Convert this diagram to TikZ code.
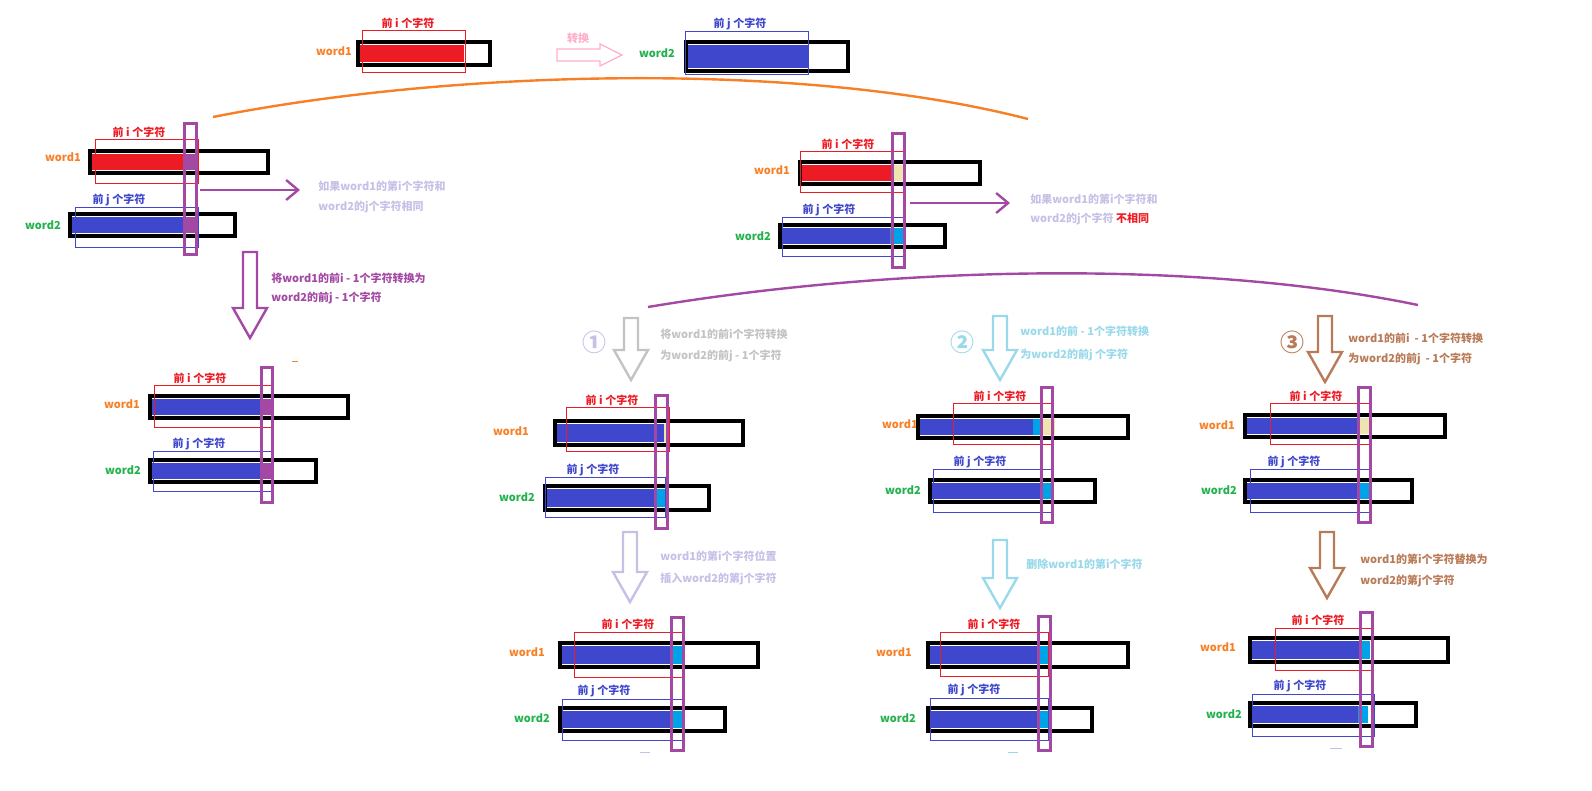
\documentclass[tikz,border=0pt]{standalone}
\usepackage{fontspec}
\usetikzlibrary{arrows.meta}
\setmainfont{Noto Sans CJK SC}
\begin{document}
\definecolor{cOr}{RGB}{247,127,38}
\definecolor{cGr}{RGB}{34,177,76}
\definecolor{cRe}{RGB}{237,28,36}
\definecolor{cBl}{RGB}{63,72,204}
\definecolor{cPu}{RGB}{163,73,164}
\definecolor{cLp}{RGB}{200,191,231}
\definecolor{cCy}{RGB}{153,217,234}
\definecolor{cBr}{RGB}{185,122,87}
\definecolor{cGy}{RGB}{195,195,195}
\definecolor{cPk}{RGB}{255,174,201}
\definecolor{cBe}{RGB}{239,228,176}
\definecolor{cSk}{RGB}{0,162,232}
\newcommand\wbar[7]{\fill[#7] (#2+2,#3+3) rectangle (#6,#5-3);
 \draw[line width=2pt] (#2,#3) rectangle (#4,#5); \coordinate (#1) at (#2,#3);}
\newcommand\wpatch[5]{\fill[#5] (#1,#2+3) rectangle (#3,#4-3);}
\newcommand\wbox[7]{\draw[#1,line width=0.5pt] (#2,#3) rectangle (#4,#5);
 \node[lab,text=#1,anchor=south] at (#6,#3-2) {#7};}
\newcommand\wsel[4]{\draw[cPu,line width=1.5pt] (#1,#3) rectangle (#2,#4);}
\newcommand\harrow[5]{\draw[#5,line width=1.2pt] (#2-7,#3) -- (#2+7,#3) -- (#2+7,#4-30) -- (#2+17,#4-30) -- (#2,#4) -- (#2-17,#4-30) -- (#2-7,#4-30) -- cycle; \coordinate (#1) at (#2,#3);}
\begin{tikzpicture}[x=0.5pt,y=-0.5pt,
 lab/.style={font=\bfseries\fontsize{5.5}{6.5}\selectfont,inner sep=0},
 txt/.style={lab,anchor=west},
 w1/.style={lab,text=cOr},w2/.style={lab,text=cGr}]
\useasboundingbox (0,0) rectangle (1592,791);
% top
\node[w1] (t1) at (334,51) {word1};
\wbar{tb1}{358}{42}{490}{65}{464}{cRe}
\wbox{cRe}{362}{31}{465}{73}{408}{前 i 个字符}
\draw[cPk,line width=0.6pt] (557,49) -- (600,49) -- (600,44) -- (622,55) -- (600,66) -- (600,61) -- (557,61) -- cycle;
\node[lab,text=cPk] at (578,38) {转换};
\node[w2] (t2) at (657,53) {word2};
\wbar{tb2}{686}{42}{848}{71}{808}{cBl}
\wbox{cBl}{685}{32}{808}{75}{740}{前 j 个字符}
\draw[cOr,line width=1.2pt] (213,117) .. controls (450,70) and (800,60) .. (1028,119);
% left
\node[w1] at (63,157) {word1};
\wbar{lb1}{90}{151}{268}{173}{190}{cRe}
\wpatch{183}{151}{195}{173}{cPu}
\wbox{cRe}{95}{140}{198}{184}{139}{前 i 个字符}
\node[w2] at (43,225) {word2};
\wbar{lb2}{70}{214}{235}{236}{185}{cBl}
\wpatch{183}{214}{195}{236}{cPu}
\wbox{cBl}{75}{208}{198}{248}{119}{前 j 个字符}
\wsel{184}{196}{124}{255}
\coordinate (la0) at (200,190); \coordinate (la1) at (300,190);
\draw[cPu,line width=1.2pt,-{Straight Barb[length=6pt,width=10pt]}] (la0) -- (la1);
\node[txt,text=cLp] at (318,186) {如果word1的第i个字符和};
\node[txt,text=cLp] at (318,207) {word2的j个字符相同};
\harrow{lh}{250}{252}{338}{cPu}
\node[txt,text=cPu] at (271,278) {将word1的前i - 1个字符转换为};
\node[txt,text=cPu] at (271,298) {word2的前j - 1个字符};
\node[w1] at (122,404) {word1};
\wbar{lc1}{150}{396}{348}{418}{270}{cBl}
\wpatch{262}{396}{272}{418}{cPu}
\wbox{cRe}{154}{386}{272}{428}{200}{前 i 个字符}
\node[w2] at (123,470) {word2};
\wbar{lc2}{150}{460}{316}{482}{270}{cBl}
\wpatch{262}{460}{272}{482}{cPu}
\wbox{cBl}{153}{452}{272}{492}{199}{前 j 个字符}
\wsel{261}{272}{368}{502}
\draw[cOr,line width=0.5pt] (292,362) -- (298,362);
% middle top
\node[w1] at (772,170) {word1};
\wbar{mb1}{800}{162}{980}{184}{893}{cRe}
\wpatch{891}{162}{906}{184}{cBe}
\wbox{cRe}{800}{152}{904}{193}{848}{前 i 个字符}
\node[w2] at (753,236) {word2};
\wbar{mb2}{780}{225}{945}{247}{893}{cBl}
\wpatch{890}{225}{903}{247}{cSk}
\wbox{cBl}{782}{218}{905}{257}{829}{前 j 个字符}
\wsel{892}{904}{134}{268}
\coordinate (ma0) at (910,203); \coordinate (ma1) at (1010,203);
\draw[cPu,line width=1.2pt,-{Straight Barb[length=6pt,width=10pt]}] (ma0) -- (ma1);
\node[txt,text=cLp] at (1030,199) {如果word1的第i个字符和};
\node[txt,text=cLp] at (1030,219) {word2的j个字符 \textcolor{cRe}{不相同}};
\draw[cPu,line width=1.2pt] (648,307) .. controls (900,265) and (1200,260) .. (1418,305);
% col1
\node[lab,text=cLp,font=\bfseries\fontsize{12}{12}\selectfont] at (594,342) {①};
\harrow{h1}{631}{318}{380}{cGy}
\node[txt,text=cGy] at (660,334) {将word1的前i个字符转换};
\node[txt,text=cGy] at (660,356) {为word2的前j - 1个字符};
\node[w1] at (511,431) {word1};
\wbar{a1}{555}{421}{743}{445}{666}{cBl}
\wpatch{664}{421}{670}{445}{cBe}
\wbox{cRe}{566}{408}{669}{452}{612}{前 i 个字符}
\node[w2] at (517,497) {word2};
\wbar{a2}{545}{486}{709}{510}{655}{cBl}
\wpatch{655}{486}{666}{510}{cSk}
\wbox{cBl}{545}{478}{665}{517}{593}{前 j 个字符}
\wsel{655}{667}{396}{528}
\harrow{h1b}{630}{532}{602}{cLp}
\node[txt,text=cLp] at (660,556) {word1的第i个字符位置};
\node[txt,text=cLp] at (660,579) {插入word2的第j个字符};
\node[w1] at (527,652) {word1};
\wbar{b1}{560}{643}{758}{667}{672}{cBl}
\wpatch{670}{643}{683}{667}{cSk}
\wbox{cRe}{574}{632}{684}{677}{628}{前 i 个字符}
\node[w2] at (532,718) {word2};
\wbar{b2}{560}{708}{725}{731}{672}{cBl}
\wpatch{672}{708}{683}{731}{cSk}
\wbox{cBl}{562}{699}{684}{740}{604}{前 j 个字符}
\wsel{671}{683}{617}{750}
\draw[cLp,line width=0.5pt] (640,752) -- (650,752);
% col2
\node[lab,text=cCy,font=\bfseries\fontsize{12}{12}\selectfont] at (962,342) {②};
\harrow{h2}{1000}{316}{380}{cCy}
\node[txt,text=cCy] at (1020,331) {word1的前 - 1个字符转换};
\node[txt,text=cCy] at (1020,355) {为word2的前j 个字符};
\node[w1] at (900,424) {word1};
\wbar{c1}{918}{416}{1128}{438}{1033}{cBl}
\wpatch{1033}{416}{1043}{438}{cSk}
\wpatch{1043}{416}{1055}{438}{cBe}
\wbox{cRe}{953}{404}{1053}{445}{1000}{前 i 个字符}
\node[w2] at (903,490) {word2};
\wbar{c2}{930}{480}{1095}{502}{1045}{cBl}
\wpatch{1042}{480}{1052}{502}{cSk}
\wbox{cBl}{933}{470}{1052}{512}{980}{前 j 个字符}
\wsel{1041}{1052}{388}{522}
\harrow{h2b}{1000}{540}{608}{cCy}
\node[txt,text=cCy] at (1026,564) {删除word1的第i个字符};
\node[w1] at (894,652) {word1};
\wbar{d1}{928}{643}{1128}{667}{1040}{cBl}
\wpatch{1038}{643}{1048}{667}{cSk}
\wbox{cRe}{940}{632}{1048}{676}{994}{前 i 个字符}
\node[w2] at (898,718) {word2};
\wbar{d2}{928}{708}{1092}{731}{1040}{cBl}
\wpatch{1038}{708}{1048}{731}{cSk}
\wbox{cBl}{930}{698}{1048}{740}{974}{前 j 个字符}
\wsel{1038}{1050}{616}{750}
\draw[cCy,line width=0.5pt] (1008,752) -- (1018,752);
% col3
\node[lab,text=cBr,font=\bfseries\fontsize{12}{12}\selectfont] at (1292,342) {③};
\harrow{h3}{1325}{316}{382}{cBr}
\node[txt,text=cBr] at (1348,338) {word1的前i \ - 1个字符转换};
\node[txt,text=cBr] at (1348,359) {为word2的前j \ - 1个字符};
\node[w1] at (1217,425) {word1};
\wbar{e1}{1245}{415}{1445}{437}{1360}{cBl}
\wpatch{1360}{415}{1372}{437}{cBe}
\wbox{cRe}{1270}{404}{1370}{445}{1316}{前 i 个字符}
\node[w2] at (1219,490) {word2};
\wbar{e2}{1245}{480}{1412}{502}{1360}{cBl}
\wpatch{1358}{480}{1370}{502}{cSk}
\wbox{cBl}{1250}{470}{1370}{512}{1294}{前 j 个字符}
\wsel{1358}{1370}{388}{522}
\harrow{h3b}{1327}{532}{598}{cBr}
\node[txt,text=cBr] at (1360,559) {word1的第i个字符替换为};
\node[txt,text=cBr] at (1360,581) {word2的第j个字符};
\node[w1] at (1218,647) {word1};
\wbar{f1}{1250}{638}{1448}{662}{1362}{cBl}
\wpatch{1360}{638}{1370}{662}{cSk}
\wbox{cRe}{1275}{628}{1372}{670}{1318}{前 i 个字符}
\node[w2] at (1224,714) {word2};
\wbar{f2}{1250}{703}{1416}{726}{1362}{cBl}
\wpatch{1358}{703}{1368}{726}{cSk}
\wbox{cBl}{1252}{694}{1374}{736}{1300}{前 j 个字符}
\wsel{1360}{1372}{612}{746}
\draw[cLp,line width=0.5pt] (1330,748) -- (1342,748);
\end{tikzpicture}
\end{document}
